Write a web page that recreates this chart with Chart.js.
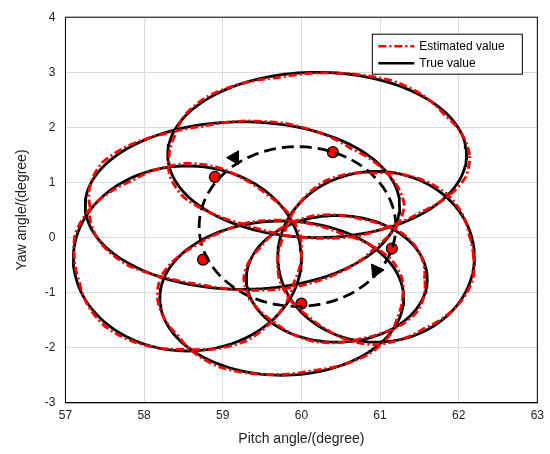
<!DOCTYPE html>
<html><head><script src="https://cdn.jsdelivr.net/npm/chart.js@4"></script>
<style>body{margin:0;background:#fff}#w{width:550px;height:454px}</style></head>
<body><div id="w"><canvas id="c"></canvas></div>
<script>
// True-value ellipses: centre x, centre y, semi-axis x, semi-axis y
const ellCx = [60.2, 59.25, 58.55, 59.75, 60.45, 60.95];
const ellCy = [1.5, 0.58, -0.38, -1.1, -0.75, -0.35];
const ellAx = [1.9, 2.0, 1.45, 1.55, 1.15, 1.25];
const ellAy = [1.5, 1.52, 1.68, 1.4, 1.15, 1.55];
// Hand-read wobble of the estimated contour (relative radius offsets, per 15 deg)
const wobble = [0.03,0.01,-0.01,0.02,0.04,0.02,0.0,-0.02,0.01,0.03,0.02,-0.01,0.0,0.03,0.04,0.01,-0.02,0.0,0.02,0.03,0.0,-0.01,0.02,0.04];
// Trajectory (dashed) ellipse and marked points
const trajC = [59.95, 0.2], trajA = [1.25, 1.45];
const dotX = [58.9, 60.4, 61.15, 60.0, 58.75];
const dotY = [1.1, 1.55, -0.2, -1.2, -0.4];
const arrowX = [59.15, 60.95], arrowY = [1.45, -0.6], arrowRot = [-90, 205];
const xTicks = [57,58,59,60,61,62,63], yTicks = [-3,-2,-1,0,1,2,3,4];

function ell(cx,cy,ax,ay,wob){
  const p=[];
  for(let i=0;i<=144;i++){const t=i/144*2*Math.PI;
    let r=1; if(wob){const k=i/6, j=Math.floor(k)%24, f=k-Math.floor(k); r=1+wob[j]*(1-f)+wob[(j+1)%24]*f;}
    p.push({x:cx+ax*r*Math.cos(t),y:cy+ay*r*Math.sin(t)});}
  return p;
}
const ds=[];
for(let i=0;i<ellCx.length;i++){
  const w=wobble.slice(i*4).concat(wobble.slice(0,i*4));
  ds.push({data:ell(ellCx[i],ellCy[i],ellAx[i]*0.99,ellAy[i]*0.99,w),borderColor:'#ff0000',borderWidth:2.8,borderDash:[8,3,2,3],showLine:true,pointRadius:0,tension:0});
}
for(let i=0;i<ellCx.length;i++)
  ds.push({data:ell(ellCx[i],ellCy[i],ellAx[i],ellAy[i]),borderColor:'#000',borderWidth:2.8,showLine:true,pointRadius:0,tension:0});
ds.push({data:ell(trajC[0],trajC[1],trajA[0],trajA[1]),borderColor:'#000',borderWidth:2.8,borderDash:[12,6],showLine:true,pointRadius:0});
ds.push({data:dotX.map((x,i)=>({x,y:dotY[i]})),pointRadius:5.5,pointBackgroundColor:'#ff0000',pointBorderColor:'#000',pointBorderWidth:1.2,showLine:false});
ds.push({data:arrowX.map((x,i)=>({x,y:arrowY[i]})),pointStyle:'triangle',pointRadius:8,rotation:arrowRot,pointBackgroundColor:'#000',pointBorderColor:'#000',showLine:false});

const legendPlug={id:'lg',afterDraw(c){const g=c.ctx,a=c.chartArea;
  g.save();g.strokeStyle='#000';g.lineWidth=1;g.strokeRect(a.left,a.top,a.right-a.left,a.bottom-a.top);
  const x=a.right-165,y=a.top+17,w=150,h=40;
  g.fillStyle='#fff';g.fillRect(x,y,w,h);g.strokeRect(x,y,w,h);
  g.lineWidth=2.5;g.strokeStyle='#ff0000';g.setLineDash([8,3,2,3]);g.beginPath();g.moveTo(x+6,y+12);g.lineTo(x+42,y+12);g.stroke();
  g.setLineDash([]);g.strokeStyle='#000';g.beginPath();g.moveTo(x+6,y+29);g.lineTo(x+42,y+29);g.stroke();
  g.fillStyle='#000';g.font='12px "Liberation Sans"';g.textBaseline='middle';
  g.fillText('Estimated value',x+47,y+12);g.fillText('True value',x+47,y+29);g.restore();}};

new Chart(document.getElementById('c'),{type:'scatter',data:{datasets:ds},plugins:[legendPlug],
options:{responsive:true,maintainAspectRatio:false,animation:false,layout:{padding:{left:10,right:12,top:10,bottom:2}},
plugins:{legend:{display:false},tooltip:{enabled:false}},
scales:{
 x:{min:57,max:63,afterBuildTicks:s=>{s.ticks=xTicks.map(v=>({value:v}))},
   grid:{color:'#dcdcdc',tickLength:0},border:{color:'#000'},
   ticks:{color:'#222',font:{family:'Liberation Sans',size:12},padding:6},
   title:{display:true,text:'Pitch angle/(degree)',color:'#222',font:{family:'Liberation Sans',size:14},padding:{top:2}}},
 y:{min:-3,max:4,afterBuildTicks:s=>{s.ticks=yTicks.map(v=>({value:v}))},
   grid:{color:'#dcdcdc',tickLength:0},border:{color:'#000'},
   ticks:{color:'#222',font:{family:'Liberation Sans',size:12},padding:10},
   title:{display:true,text:'Yaw angle/(degree)',color:'#222',font:{family:'Liberation Sans',size:14}}}}}});
</script></body></html>
